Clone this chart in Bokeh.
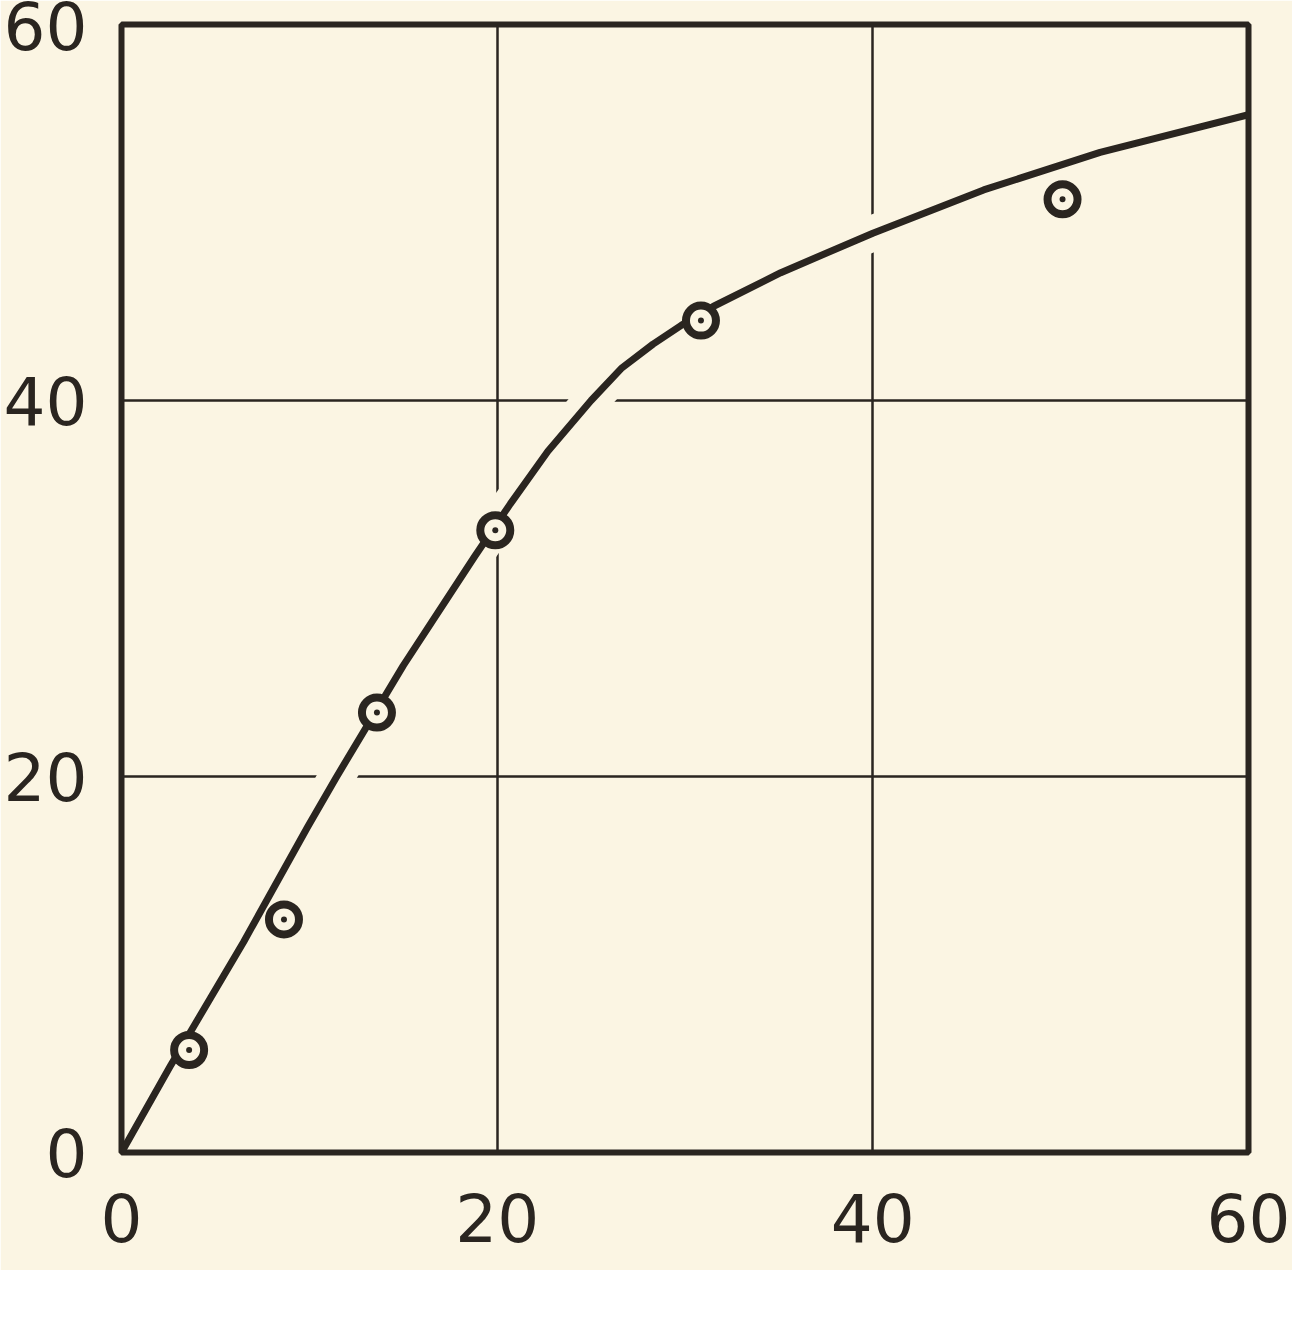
from bokeh.plotting import figure
from bokeh.models import Range1d, FixedTicker
from bokeh.embed import file_html
from bokeh.resources import INLINE

# ---- data ----
tick_values = [0, 20, 40, 60]

# observed points (circles with a dot)
obs_x = [3.6, 8.65, 13.6, 19.9, 30.85, 50.1]
obs_y = [5.45, 12.4, 23.4, 33.1, 44.25, 50.7]

# smooth curve
curve_x = [0, 2.6, 6.5, 9.9, 11.4, 15.0, 18.8, 20.7, 22.7, 25.0, 26.6, 28.3,
           29.8, 31.5, 35.1, 40.0, 45.9, 52.1, 60]
curve_y = [0, 4.6, 11.2, 17.3, 19.9, 25.9, 31.7, 34.5, 37.3, 40.0, 41.7, 43.0,
           44.0, 45.0, 46.8, 48.9, 51.2, 53.2, 55.2]

BG = "#fbf5e3"
INK = "#2a2520"

p = figure(
    frame_width=1127, frame_height=1128,
    x_range=Range1d(0, 60), y_range=Range1d(0, 60),
    output_backend="svg", toolbar_location=None,
    min_border_left=113, min_border_top=24, min_border_right=44, min_border_bottom=118,
)
p.background_fill_color = BG
p.border_fill_color = BG
p.outline_line_color = INK
p.outline_line_width = 6
p.outline_line_alpha = 1.0

for ax in (p.xaxis, p.yaxis):
    ax.ticker = FixedTicker(ticks=tick_values)
    ax.axis_line_color = None
    ax.major_tick_line_color = None
    ax.minor_tick_line_color = None
    ax.major_label_text_font = "DejaVu Sans"
    ax.major_label_text_font_size = "66px"
    ax.major_label_text_color = INK
p.xaxis.major_label_standoff = 34
p.yaxis.major_label_standoff = 28

for g in (p.xgrid, p.ygrid):
    g.ticker = FixedTicker(ticks=tick_values)
    g.grid_line_color = INK
    g.grid_line_width = 2.5
    g.grid_line_alpha = 1.0

# halo of the curve (breaks grid lines where the curve crosses them)
p.line(curve_x[2:-2], curve_y[2:-2], line_color=BG, line_width=36, line_cap="round",
       line_join="round")
p.scatter(obs_x, obs_y, size=46, fill_color=BG, line_color=None)

# the curve
p.line(curve_x, curve_y, line_color=INK, line_width=7, line_join="round", line_cap="round")

# observed points
p.scatter(obs_x, obs_y, size=30, fill_color=BG, line_color=INK, line_width=8)
p.scatter(obs_x, obs_y, size=6, fill_color=INK, line_color=None)

open("out.html", "w").write(file_html(p, INLINE))
